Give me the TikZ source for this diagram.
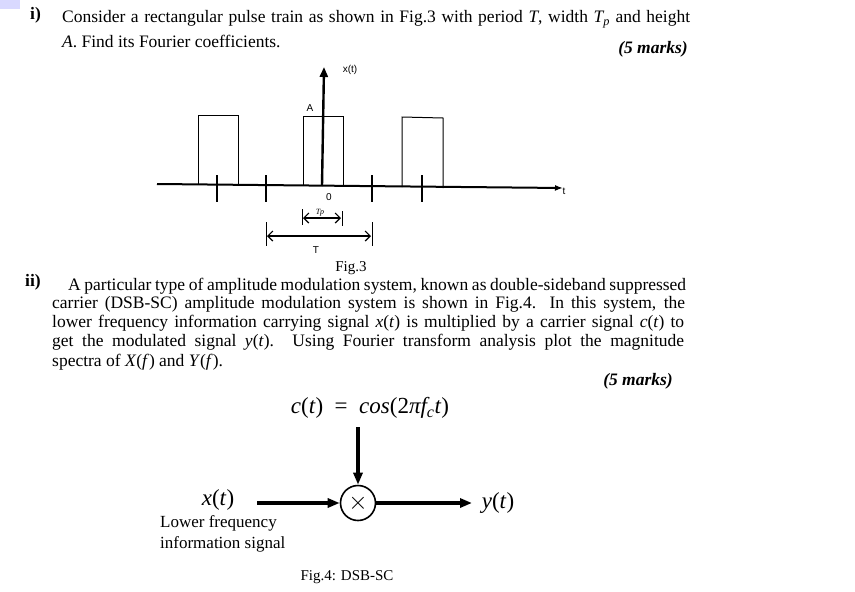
\documentclass[tikz,border=0pt]{standalone}
\usepackage{fontspec}
\setmainfont{Liberation Serif}
\newfontfamily\sansf{Liberation Sans}
\usetikzlibrary{arrows.meta}
\tikzset{
  txt/.style={inner sep=0pt,anchor=west,font=\fontsize{17.5}{20}\selectfont},
  thin/.style={line width=1pt},
  axis/.style={line width=2pt},
  dim/.style={line width=1.2pt,{Straight Barb[length=5pt]}-{Straight Barb[length=5pt]}},
  sig/.style={line width=3.2pt,-{Triangle[length=12pt,width=9pt]}},
  small/.style={inner sep=0pt,font=\sansf\fontsize{10}{11}\selectfont}
}
\newcommand{\jl}[2]{\makebox[#1][s]{#2}}
\begin{document}
\begin{tikzpicture}[x=1pt,y=-1pt]
\useasboundingbox (0,0) rectangle (855,592);
\fill[blue!15] (0,0) rectangle (20,9);
% Part i text
\node[txt] (i) at (30,15) {\textbf{i)}};
\node[txt] (l1) at (62,19) {\jl{628pt}{Consider a rectangular pulse train as shown in Fig.3 with period \textit{T}, width \textit{T\textsubscript{p}} and height}};
\node[txt] (l2) at (62,41) {\textit{A}. Find its Fourier coefficients.};
\node[txt,anchor=east] (m1) at (688,49) {\textbf{\textit{(5 marks)}}};
% Fig 3
\draw[axis,-{Latex[length=8pt]}] (157,184) -- (563,188);
\draw[line width=2.4pt,-{Triangle[length=10pt,width=8pt]}] (322,186) -- (324,67);
\draw[thin] (198,184) -- (198,115) -- (238,115) -- (238,185);
\draw[thin] (303,186) -- (303,116) -- (343,116) -- (343,186);
\draw[thin] (402,187) -- (402,117) -- (443,118) -- (443,188);
\foreach \x in {217,266,372,422} \draw[line width=1.6pt] (\x,175) -- (\x,202);
\node[small] (A) at (310,108) {A};
\node[small] (xt) at (350,70) {x(t)};
\node[small] (tl) at (564,191) {t};
\node[small] (zero) at (329,197) {0};
\draw[thin] (302,209) -- (302,225);
\draw[thin] (342,211) -- (342,226);
\draw[dim] (303,218) -- (341,218);
\node[inner sep=0pt,font=\fontsize{8}{9}\selectfont\itshape] (tp) at (320,213) {Tp};
\draw[thin] (266,222) -- (266,246);
\draw[thin] (372,222) -- (372,246);
\draw[dim] (267,236) -- (371,236);
\node[small] (T) at (316,250) {T};
\node[inner sep=0pt,font=\fontsize{15}{16}\selectfont] (f3) at (351,268) {Fig.3};
% Part ii
\node[txt] (ii) at (25,282) {\textbf{ii)}};
\node[txt] (p1) at (68,286) {\jl{618pt}{A particular type of amplitude modulation system, known as double-sideband suppressed}};
\node[txt] (p2) at (52,304) {\jl{633pt}{carrier (DSB-SC) amplitude modulation system is shown in Fig.4. In this system, the}};
\node[txt] (p3) at (52,323) {\jl{632pt}{lower frequency information carrying signal \textit{x}(\textit{t}) is multiplied by a carrier signal \textit{c}(\textit{t}) to}};
\node[txt] (p4) at (52,342) {\jl{632pt}{get the modulated signal \textit{y}(\textit{t}). Using Fourier transform analysis plot the magnitude}};
\node[txt] (p5) at (52,362) {spectra of \textit{X}(\textit{f}) and \textit{Y}(\textit{f}).};
\node[txt,anchor=east] (m2) at (673,381) {\textbf{\textit{(5 marks)}}};
% Fig 4
\node[inner sep=0pt,font=\fontsize{23}{24}\selectfont] (ct) at (370,408) {\textit{c}(\textit{t}) \ = \ \textit{cos}(2\textit{πf\textsubscript{c}t})};
\node[circle,draw,line width=1.6pt,minimum size=35pt,inner sep=0pt,font=\fontsize{24}{24}\selectfont] (mul) at (358,503) {$\times$};
\coordinate (top) at (358,427);
\draw[sig] (top) -- (mul.north);
\node[inner sep=0pt,font=\fontsize{23}{24}\selectfont] (x) at (218,500) {\textit{x}(\textit{t})};
\coordinate (xs) at (257,503);
\draw[sig] (xs) -- (mul.west);
\node[inner sep=0pt,font=\fontsize{23}{24}\selectfont] (y) at (498,503) {\textit{y}(\textit{t})};
\coordinate (ye) at (472,503);
\draw[sig] (mul.east) -- (ye);
\node[inner sep=0pt,align=left,anchor=north west,font=\fontsize{17}{21}\selectfont] (lf) at (160,515) {Lower frequency\\information signal};
\node[inner sep=0pt,font=\fontsize{15}{16}\selectfont] (f4) at (347,577) {Fig.4: DSB-SC};
\end{tikzpicture}
\end{document}
